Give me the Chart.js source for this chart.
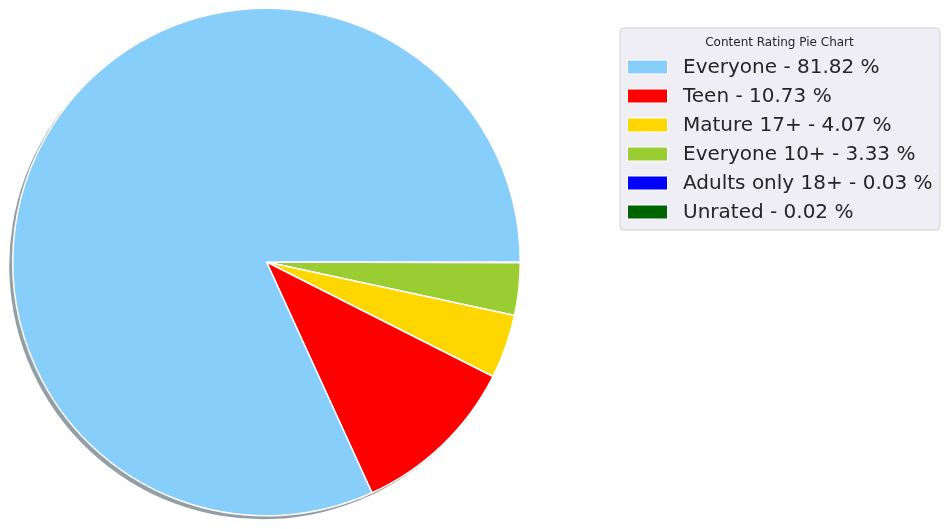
<!DOCTYPE html>
<html>
<head>
<meta charset="utf-8">
<script src="https://cdn.jsdelivr.net/npm/chart.js@4"></script>
<style>
  html, body { margin: 0; padding: 0; background: #fff; }
  canvas { display: block; }
</style>
</head>
<body>
<canvas id="ratingPie" width="948" height="529"></canvas>
<script>
// Content rating shares (percent)
const ratings = ['Everyone', 'Teen', 'Mature 17+', 'Everyone 10+', 'Adults only 18+', 'Unrated'];
const shares = [81.82, 10.73, 4.07, 3.33, 0.03, 0.02];
const colors = ['#87cefa', '#ff0000', '#ffd700', '#9acd32', '#0000ff', '#006400'];
const legendTitle = 'Content Rating Pie Chart';

// matplotlib draws counterclockwise from 3 o'clock, Chart.js clockwise -> reverse order
const revLabels = ratings.slice().reverse();
const revShares = shares.slice().reverse();
const revColors = colors.slice().reverse();

function hexToRgb(h) {
  const n = parseInt(h.slice(1), 16);
  return [(n >> 16) & 255, (n >> 8) & 255, n & 255];
}

// gray drop shadow under each wedge
const pieShadow = {
  id: 'pieShadow',
  beforeDatasetsDraw(chart) {
    const ctx = chart.ctx;
    const arcs = chart.getDatasetMeta(0).data;
    ctx.save();
    arcs.forEach((arc, i) => {
      const p = arc.getProps(['x', 'y', 'startAngle', 'endAngle', 'outerRadius'], true);
      const c = hexToRgb(revColors[i]).map(v => Math.round(v * 0.3));
      ctx.fillStyle = 'rgba(' + c.join(',') + ',0.5)';
      ctx.beginPath();
      ctx.moveTo(p.x - 3.5, p.y + 3.5);
      ctx.arc(p.x - 3.5, p.y + 3.5, p.outerRadius, p.startAngle, p.endAngle);
      ctx.closePath();
      ctx.fill();
    });
    ctx.restore();
  }
};

// boxed legend at top right
const boxLegend = {
  id: 'boxLegend',
  afterDraw(chart) {
    const ctx = chart.ctx;
    const x = 620, y = 28, w = 320, h = 202;
    ctx.save();
    ctx.beginPath();
    ctx.roundRect(x, y, w, h, 4);
    ctx.fillStyle = '#eeeef4';
    ctx.fill();
    ctx.strokeStyle = '#d0d0d6';
    ctx.lineWidth = 1;
    ctx.stroke();

    ctx.fillStyle = '#262626';
    ctx.font = '12px "DejaVu Sans"';
    ctx.textAlign = 'center';
    ctx.textBaseline = 'middle';
    ctx.fillText(legendTitle, x + w / 2 - 0.5, y + 14.5);

    ctx.font = '20px "DejaVu Sans"';
    ctx.textAlign = 'left';
    ratings.forEach((name, i) => {
      const cy = 67 + i * 29;
      ctx.fillStyle = colors[i];
      ctx.fillRect(627.5, cy - 7, 40, 14);
      ctx.strokeStyle = '#ffffff';
      ctx.strokeRect(627.5, cy - 7, 40, 14);
      ctx.fillStyle = '#262626';
      ctx.fillText(name + ' - ' + shares[i].toFixed(2) + ' %', 683, cy + 1);
    });
    ctx.restore();
  }
};

new Chart(document.getElementById('ratingPie'), {
  type: 'pie',
  data: {
    labels: revLabels,
    datasets: [{
      data: revShares,
      backgroundColor: revColors,
      borderColor: '#ffffff',
      borderWidth: 1.5
    }]
  },
  options: {
    responsive: false,
    animation: false,
    rotation: 90,
    layout: { padding: { left: 12, top: 7, right: 427, bottom: 12 } },
    plugins: {
      legend: { display: false },
      tooltip: { enabled: false }
    }
  },
  plugins: [pieShadow, boxLegend]
});
</script>
</body>
</html>
